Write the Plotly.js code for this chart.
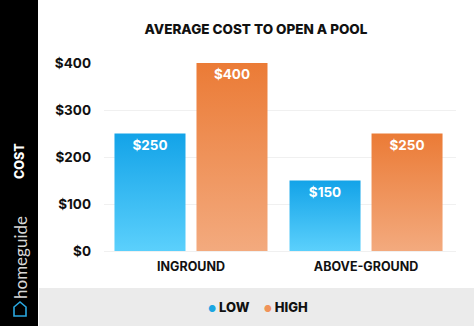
<!DOCTYPE html>
<html>
<head>
<meta charset="utf-8">
<script src="https://cdn.plot.ly/plotly-3.0.1.min.js"></script>
<style>
html,body{margin:0;padding:0;background:#fff;}
#chart{width:474px;height:326px;}
</style>
</head>
<body>
<div id="chart"></div>
<script>
// ---- data ----
var categories = ["INGROUND", "ABOVE-GROUND"];
var lowValues = [250, 150];
var highValues = [400, 250];
var seriesNames = ["LOW", "HIGH"];
var yTickValues = [0, 100, 200, 300, 400];
var yTickLabels = ["$0", "$100", "$200", "$300", "$400"];

// ---- styling ----
var W = 474, H = 326;
var M = {l: 104, r: 18, t: 63, b: 75};
var PW = W - M.l - M.r, PH = H - M.t - M.b;
function px(x) { return (x - M.l) / PW; }
function py(y) { return (H - M.b - y) / PH; }
var FONT = "Inter, 'DejaVu Sans', sans-serif";
var gradients = [
  {id: "gLow", top: "#13a3e8", bottom: "#5bd0fc"},
  {id: "gHigh", top: "#eb7b36", bottom: "#f3aa7e"}
];
var legendColors = ["#1ba6e2", "#f0935a"];

var traces = [lowValues, highValues].map(function (vals, i) {
  return {
    type: "bar",
    name: seriesNames[i],
    x: categories,
    y: vals,
    marker: {color: gradients[i].top},
    text: vals.map(function (v) { return "$" + v; }),
    texttemplate: "%{text}",
    textposition: "inside",
    insidetextanchor: "end",
    textfont: {color: "#ffffff", size: 13.5, family: FONT, weight: 700},
    cliponaxis: false,
    showlegend: false,
    hoverinfo: "skip"
  };
});

var housePath = (function () {
  var pts = [[14, 316], [14, 307], [20, 302], [26, 307], [26, 316]];
  return "M" + pts.map(function (p) { return px(p[0]) + "," + py(p[1]); }).join(" L") + " Z";
})();

var layout = {
  width: W, height: H,
  margin: M,
  paper_bgcolor: "#ffffff",
  plot_bgcolor: "#ffffff",
  barmode: "group",
  bargap: 0.063,
  bargroupgap: 0.134,
  showlegend: false,
  title: {
    text: "AVERAGE COST TO OPEN A POOL",
    font: {family: FONT, size: 13.5, color: "#111111", weight: 800},
    x: px(256), xref: "paper", xanchor: "center",
    y: 1 - 29 / H, yanchor: "middle"
  },
  xaxis: {
    range: [-0.497, 1.514],
    showgrid: false, zeroline: false, showline: false,
    ticks: "",
    tickfont: {family: FONT, size: 12.5, color: "#111111", weight: 700},
    ticklabelstandoff: 6,
    fixedrange: true
  },
  yaxis: {
    range: [0, 400],
    tickmode: "array",
    tickvals: yTickValues,
    ticktext: yTickLabels,
    showgrid: true, gridcolor: "#f0f0f0", gridwidth: 1,
    zeroline: true, zerolinecolor: "#f0f0f0", zerolinewidth: 1,
    showline: false, ticks: "",
    tickfont: {family: FONT, size: 13.5, color: "#111111", weight: 700},
    ticklabelstandoff: 12,
    fixedrange: true
  },
  shapes: [
    {type: "rect", xref: "paper", yref: "paper", layer: "below",
     x0: px(-2), x1: px(38), y0: py(H + 2), y1: py(-2),
     fillcolor: "#000000", line: {width: 0}},
    {type: "rect", xref: "paper", yref: "paper", layer: "below",
     x0: px(39), x1: px(474), y0: py(H + 2), y1: py(288),
     fillcolor: "#ebebeb", line: {width: 0}},
    {type: "path", xref: "paper", yref: "paper", path: housePath,
     line: {color: "#2aa8e0", width: 1.6}, fillcolor: "rgba(0,0,0,0)"}
  ],
  annotations: [
    {xref: "paper", yref: "paper", x: px(19.5), y: py(161.5), text: "COST",
     textangle: -90, showarrow: false, xanchor: "center", yanchor: "middle",
     font: {family: FONT, size: 12.5, color: "#ffffff", weight: 800}},
    {xref: "paper", yref: "paper", x: px(20), y: py(258), text: "homeguide",
     textangle: -90, showarrow: false, xanchor: "center", yanchor: "middle",
     font: {family: "Lato, " + FONT, size: 17, color: "#d8d8d8"}},
    {xref: "paper", yref: "paper", x: px(258), y: py(307),
     text: "<span style='color:" + legendColors[0] + ";font-size:9px'>●</span> " + seriesNames[0] +
           "     <span style='color:" + legendColors[1] + ";font-size:9px'>●</span> " + seriesNames[1],
     showarrow: false, xanchor: "center", yanchor: "middle",
     font: {family: FONT, size: 13, color: "#111111", weight: 800}}
  ]
};

Plotly.newPlot("chart", traces, layout, {displayModeBar: false, staticPlot: true}).then(function (gd) {
  var svg = gd.querySelector("svg.main-svg");
  var ns = "http://www.w3.org/2000/svg";
  var defs = svg.querySelector("defs");
  if (!defs) { defs = document.createElementNS(ns, "defs"); svg.insertBefore(defs, svg.firstChild); }
  gradients.forEach(function (g) {
    var lg = document.createElementNS(ns, "linearGradient");
    lg.setAttribute("id", g.id);
    lg.setAttribute("x1", "0"); lg.setAttribute("y1", "0");
    lg.setAttribute("x2", "0"); lg.setAttribute("y2", "1");
    [[0, g.top], [1, g.bottom]].forEach(function (s) {
      var st = document.createElementNS(ns, "stop");
      st.setAttribute("offset", s[0]);
      st.setAttribute("stop-color", s[1]);
      lg.appendChild(st);
    });
    defs.appendChild(lg);
  });
  var barTraces = gd.querySelectorAll("g.barlayer g.trace.bars");
  barTraces.forEach(function (t, i) {
    t.querySelectorAll("g.point path").forEach(function (p) {
      p.style.fill = "url(#" + gradients[i].id + ")";
    });
  });
});
</script>
</body>
</html>
